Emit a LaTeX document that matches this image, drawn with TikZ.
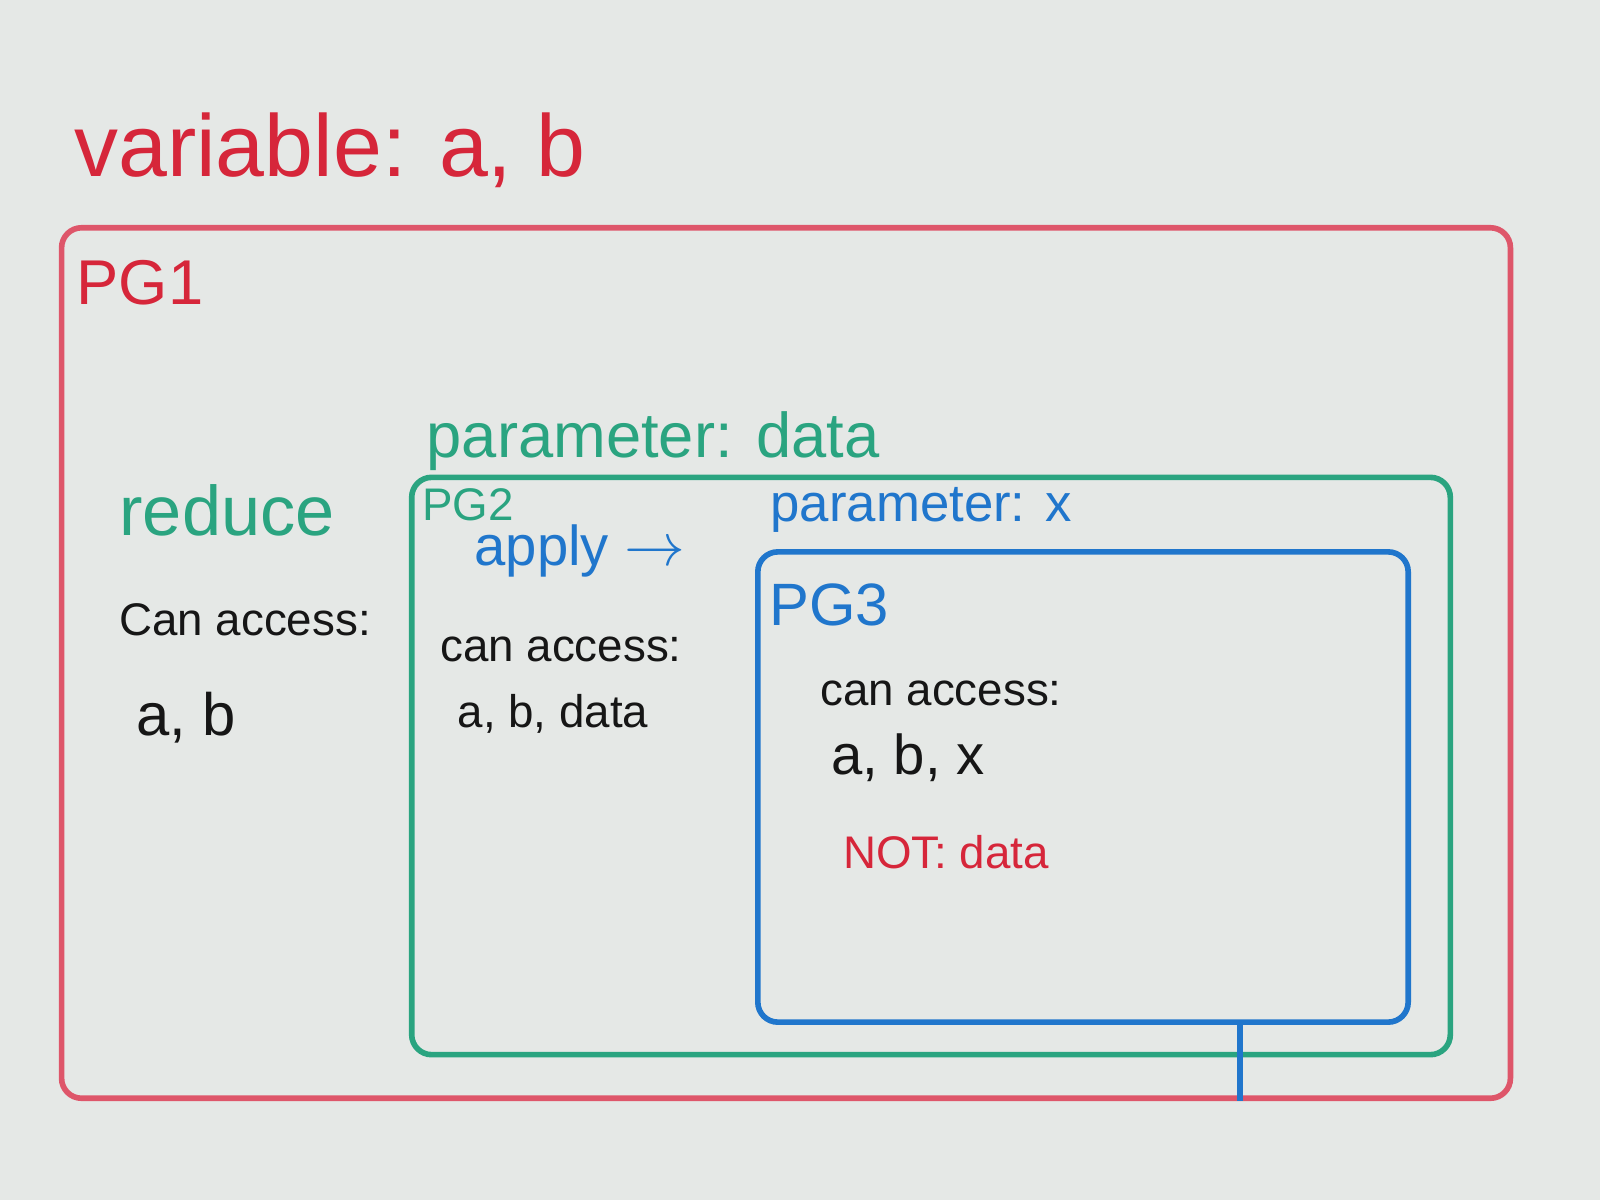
\documentclass[tikz,border=0pt]{standalone}
\usepackage{fontspec}
\setmainfont{Liberation Sans}
\definecolor{board}{RGB}{229,232,230}
\definecolor{pgred}{RGB}{222,86,106}
\definecolor{inkred}{RGB}{214,38,58}
\definecolor{pggreen}{RGB}{42,164,128}
\definecolor{pgblue}{RGB}{32,118,204}
\definecolor{ink}{RGB}{22,22,22}

\begin{document}
\begin{tikzpicture}
% style
	[x=0.01cm, y=-0.01cm,
	scopebox/.style={rectangle, line width=1.6pt, inner sep=0pt, rounded corners=2mm},
	label_text/.style={inner sep=0pt, font=\fontsize{#1}{#1}\selectfont},
	access/.style={label_text=13, text=ink}]

	% board
	\useasboundingbox (0,0) rectangle (1600,1200);
	\fill[board] (0,0) rectangle (1600,1200);

	% scopes
	\node [scopebox, draw=pgred, minimum width=14.48cm, minimum height=8.70cm] (pg1) at (786,663) {};
	\node [scopebox, draw=pggreen, minimum width=10.38cm, minimum height=5.77cm] (pg2) at (931,766) {};
	\node [scopebox, draw=pgblue, minimum width=6.50cm, minimum height=4.70cm] (pg3) at (1083,787) {};
	\coordinate (tickx) at (1240,0);
	\draw [pgblue, line width=1.6pt] (pg3.south -| tickx) -- (pg1.south -| tickx);

	% PG1
	\node [label_text=25, text=inkred] (vars) at (330,150) {variable: a, b};
	\node [label_text=18, text=inkred] (pg1name) at (140,283) {PG1};
	\node [label_text=20, text=pggreen] (reduce) at (227,510) {reduce};
	\node [access] (acc1) at (245,620) {Can access:};
	\node [label_text=17, text=ink] (vis1) at (186,718) {a, b};

	% PG2
	\node [label_text=18, text=pggreen] (param2) at (653,441) {parameter: data};
	\node [label_text=13, text=pggreen] (pg2name) at (468,505) {PG2};
	\node [label_text=16, text=pgblue] (apply) at (580,551) {apply $\rightarrow$};
	\node [access] (acc2) at (561,649) {can access:};
	\node [access] (vis2) at (553,714) {a, b, data};

	% PG3
	\node [label_text=15, text=pgblue] (param3) at (921,510) {parameter: x};
	\node [label_text=17, text=pgblue] (pg3name) at (829,605) {PG3};
	\node [access] (acc3) at (941,693) {can access:};
	\node [label_text=16, text=ink] (vis3) at (908,758) {a, b, x};
	\node [access, text=inkred] (notvis) at (946,852) {NOT: data};
\end{tikzpicture}
\end{document}
